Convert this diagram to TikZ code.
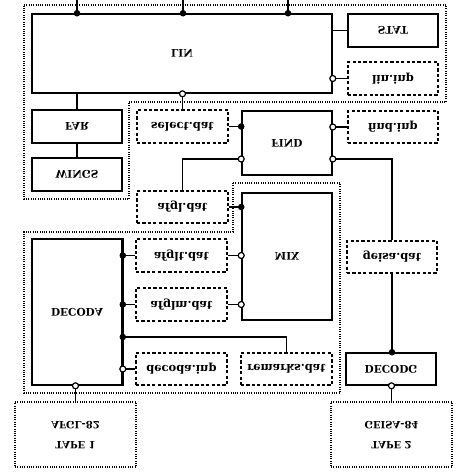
\documentclass[tikz,border=0pt]{standalone}
\usepackage{graphicx}
\usepackage{fontspec}
\setmainfont{DejaVu Serif}
\usetikzlibrary{calc}
\usetikzlibrary{positioning}
\tikzset{
	prog/.style={
		rectangle,
		draw=black, line width=1.6pt,
		minimum width=90pt,
		minimum height=33pt,
		inner sep=0pt,
		font=\fontsize{10.5}{13}\selectfont\bfseries},
	datei/.style={
		rectangle,
		draw=black, line width=1.5pt,
		dash pattern=on 3.2pt off 2.2pt,
		minimum width=91pt,
		minimum height=33pt,
		inner sep=0pt,
		font=\fontsize{11.5}{14}\selectfont\bfseries},
	tapebox/.style={
		rectangle,
		draw=black, line width=1.3pt,
		dash pattern=on 1pt off 1.3pt,
		minimum width=121pt,
		minimum height=65pt,
		inner sep=0pt,
		font=\fontsize{10}{13}\selectfont\bfseries},
	region/.style={draw, line width=1.3pt, dash pattern=on 1pt off 1.3pt},
	line/.style={draw, line width=1.6pt},
}
\newcommand{\fl}[1]{\scalebox{1}[-1]{#1}}
\newcommand{\fulldot}[1]{\fill (#1) circle[radius=3.3pt];}
\newcommand{\opendot}[1]{\filldraw[fill=white, line width=1.2pt] (#1) circle[radius=3pt];}

\begin{document}
\begin{tikzpicture}[x=1pt, y=-1pt]
	\useasboundingbox (0,0) rectangle (474,474);
	% dotted groups
	\draw[region] (24,5) -- (446,5) -- (446,102) -- (129,102) -- (129,199) -- (24,199) -- cycle;
	\draw[region] (233,183) -- (340,183) -- (340,393) -- (24,393) -- (24,232) -- (233,232) -- cycle;
	
	\node[prog, minimum width=300pt, minimum height=79pt] (lin) at (182,53.5) {\fl{LIN}};
	\node[prog] (stat) at (393,30.5) {\fl{STAT}};
	\node[datei, minimum width=90pt] (lininp) at (393,78.5) {\fl{lin.inp}};
	\node[prog] (far) at (77,126.5) {\fl{FAR}};
	\node[prog] (wings) at (77,174.5) {\fl{WINGS}};
	\node[datei] (select) at (182.5,126.5) {\fl{select.dat}};
	\node[prog, minimum height=64pt] (find) at (287,143) {\fl{FIND}};
	\node[datei, minimum width=90pt, minimum height=32pt] (findinp) at (393,127) {\fl{find.inp}};
	\node[datei, minimum height=32pt] (afgl) at (182.5,207) {\fl{afgl.dat}};
	\node[prog, minimum height=127pt] (mix) at (287,256.5) {\fl{MIX}};
	\node[datei] (afglt) at (181.5,255.5) {\fl{afglt.dat}};
	\node[datei] (afglm) at (181.5,304.5) {\fl{afglm.dat}};
	\node[prog, minimum height=146pt] (decoda) at (77,312) {\fl{DECODA}};
	\node[datei, minimum width=90pt, minimum height=32pt] (geisa) at (392,257) {\fl{geisa.dat}};
	\node[datei, minimum height=32pt] (decodainp) at (181.5,369) {\fl{decoda.inp}};
	\node[datei, minimum height=32pt] (remarks) at (286.5,369) {\fl{remarks.dat}};
	\node[prog, minimum height=32pt] (decodg) at (391,369) {\fl{DECODG}};
	\node[tapebox] (tape1) at (75.5,434.5) {\fl{\begin{tabular}{@{}c@{}}TAPE 1\\[7pt]AFGL-82\end{tabular}}};
	\node[tapebox] (tape2) at (391.5,434.5) {\fl{\begin{tabular}{@{}c@{}}TAPE 2\\[7pt]GEISA-84\end{tabular}}};
	
	% connectors
	\foreach \x in {77,183,288} {
		\coordinate (in\x) at (\x,0);
		\draw[line] (in\x) -- (in\x |- lin.north) coordinate (d\x);
		\fulldot{d\x}
	}
	\draw[line] (stat.west) -- (stat.west -| lin.east);
	\draw[line] (lininp.west) -- (lininp.west -| lin.east) coordinate (a1);
	\opendot{a1}
	\draw[line] (select.north) -- (select.north |- lin.south) coordinate (a2);
	\opendot{a2}
	\draw[line] (far.north) -- (far.north |- lin.south);
	\draw[line] (far.south) -- (wings.north);
	\draw[line] (select.east) -- (select.east -| find.west) coordinate (a3);
	\fulldot{a3}
	\draw[line] (findinp.west) -- (findinp.west -| find.east) coordinate (a4);
	\opendot{a4}
	\coordinate (fl) at ($(find.west)+(0,16)$);
	\coordinate (fr) at ($(find.east)+(0,16)$);
	\draw[line] (fl) -| (afgl.north);
	\draw[line] (fr) -| (geisa.north);
	\opendot{fl}
	\opendot{fr}
	\draw[line] (afgl.east) -- (afgl.east -| mix.west) coordinate (a5);
	\fulldot{a5}
	\draw[line] (decoda.north east) -- (decoda.south east);
	\foreach \f in {afglt,afglm} {
		\draw[line] (\f.east) -- (\f.east -| mix.west) coordinate (m\f);
		\draw[line] (\f.west) -- (\f.west -| decoda.east) coordinate (d\f);
		\opendot{m\f}
		\fulldot{d\f}
	}
	\coordinate (dr) at (decoda.east |- 0,337);
	\draw[line] (dr) -| (remarks.north);
	\fulldot{dr}
	\draw[line] (decodainp.west) -- (decodainp.west -| decoda.east) coordinate (a6);
	\opendot{a6}
	\draw[line] (geisa.south) -- (geisa.south |- decodg.north) coordinate (a7);
	\fulldot{a7}
	\draw[line] (tape2.north) -- (tape2.north |- decodg.south) coordinate (a8);
	\opendot{a8}
	\draw[line] (tape1.north) -- (tape1.north |- decoda.south) coordinate (a9);
	\opendot{a9}
\end{tikzpicture}
\end{document}
